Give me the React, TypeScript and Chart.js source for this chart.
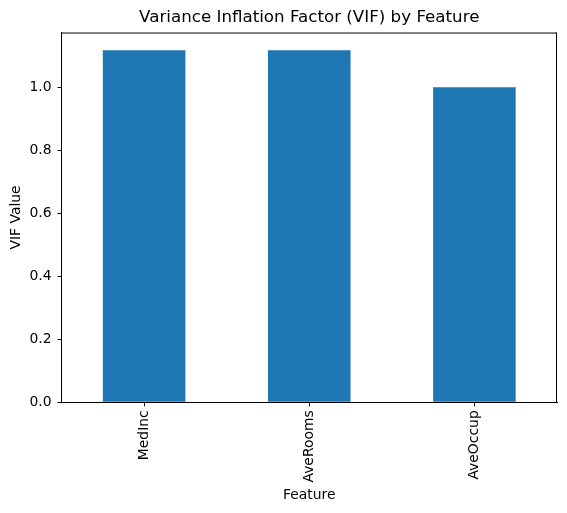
import React, { useEffect, useRef } from 'react';
import { Chart, registerables } from 'chart.js';

Chart.register(...registerables);

const features = ['MedInc', 'AveRooms', 'AveOccup'];
const vifValues = [1.118, 1.118, 1.0003];
const yTicks = [0, 0.2, 0.4, 0.6, 0.8, 1.0];

const FONT = "'DejaVu Sans', sans-serif";

const App: React.FC = () => {
  const canvasRef = useRef<HTMLCanvasElement>(null);

  useEffect(() => {
    document.body.style.margin = '0';
    const ctx = canvasRef.current?.getContext('2d');
    if (!ctx) return;

    const chart = new Chart(ctx, {
      type: 'bar',
      data: {
        labels: features,
        datasets: [
          {
            label: 'VIF',
            data: vifValues,
            backgroundColor: '#1f77b4',
            borderWidth: 0,
            inflateAmount: 0,
            barPercentage: 0.5,
            categoryPercentage: 1,
          },
        ],
      },
      options: {
        animation: false,
        responsive: false,
        maintainAspectRatio: false,
        layout: { padding: { top: 0, left: 0, right: 10, bottom: 0 } },
        plugins: {
          legend: { display: false },
          tooltip: { enabled: false },
          title: {
            display: true,
            fullSize: false,
            text: 'Variance Inflation Factor (VIF) by Feature',
            color: '#000',
            font: { family: FONT, size: 16.7, weight: 'normal', lineHeight: 1.2 },
            padding: { top: 8, bottom: 4.5 },
          },
        },
        scales: {
          x: {
            ticks: {
              color: '#000',
              font: { family: FONT, size: 13.9 },
              minRotation: 90,
              maxRotation: 90,
              padding: 4,
            },
            grid: {
              display: true,
              drawOnChartArea: false,
              drawTicks: true,
              tickLength: 4,
              color: '#000',
              offset: false,
            },
            border: { display: true, color: '#000', width: 1 },
            title: {
              display: true,
              text: 'Feature',
              color: '#000',
              font: { family: FONT, size: 13.9 },
              padding: { top: 0, bottom: 9.7 },
            },
            afterFit: (scale: any) => {
              scale.height = 110.7;
            },
          },
          y: {
            min: 0,
            max: 1.174,
            afterBuildTicks: (scale: any) => {
              scale.ticks = yTicks.map((v) => ({ value: v }));
            },
            ticks: {
              color: '#000',
              font: { family: FONT, size: 13.9 },
              padding: 6,
              callback: (v: any) => Number(v).toFixed(1),
            },
            grid: {
              display: true,
              drawOnChartArea: false,
              drawTicks: true,
              tickLength: 4,
              color: '#000',
            },
            border: { display: true, color: '#000', width: 1 },
            title: {
              display: true,
              text: 'VIF Value',
              color: '#000',
              font: { family: FONT, size: 13.9 },
              padding: { top: 7.7, bottom: 0 },
            },
            afterFit: (scale: any) => {
              scale.width = 61.5;
            },
          },
        },
      },
      plugins: [
        {
          id: 'frame',
          afterDatasetsDraw: (c: any) => {
            const { left, right, top, bottom } = c.chartArea;
            const g = c.ctx;
            g.save();
            g.strokeStyle = '#000';
            g.lineWidth = 1;
            g.beginPath();
            g.moveTo(left, top + 0.5);
            g.lineTo(right, top + 0.5);
            g.moveTo(right - 0.5, top);
            g.lineTo(right - 0.5, bottom);
            g.stroke();
            g.restore();
          },
        },
      ],
    });

    return () => {
      chart.destroy();
    };
  }, []);

  return (
    <div style={{ width: 567, height: 513, background: '#fff' }}>
      <canvas ref={canvasRef} width={567} height={513} style={{ width: 567, height: 513 }} />
    </div>
  );
};

export default App;
